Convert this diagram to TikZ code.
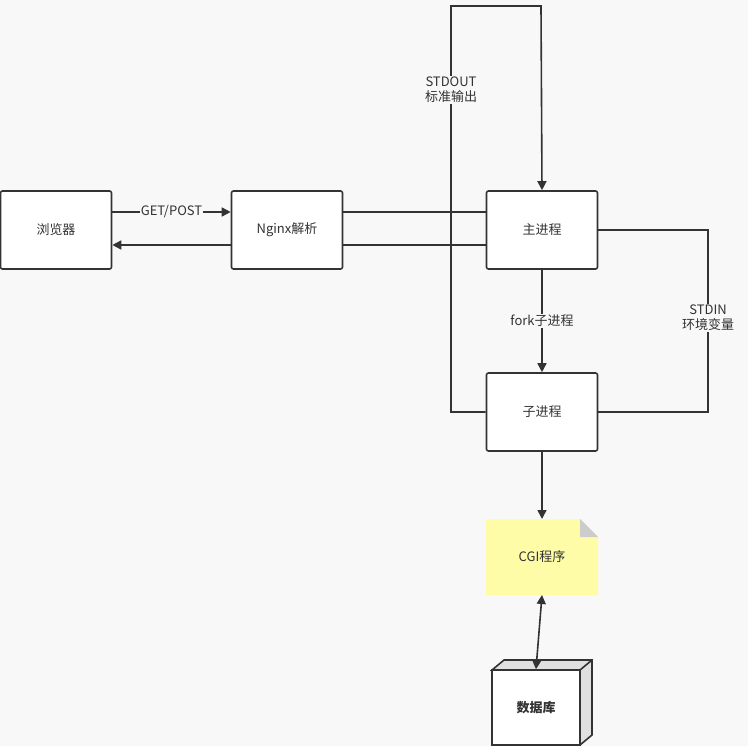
\documentclass[tikz,border=0pt]{standalone}
\usepackage{fontspec}
\setmainfont{Noto Sans CJK SC}
\usetikzlibrary{arrows.meta}
\definecolor{ln}{HTML}{333333}
\definecolor{bg}{HTML}{F8F8F8}
\definecolor{note}{HTML}{FFFCA8}
\begin{document}
\begin{tikzpicture}[x=1pt,y=-1pt,
  box/.style={draw=ln,line width=1.6pt,rounded corners=2pt,fill=white,minimum width=111pt,minimum height=78pt,font=\fontsize{13}{15}\selectfont,text=ln},
  conn/.style={draw=ln,line width=1.6pt},
  arr/.style={conn,-{Triangle[length=9pt,width=9pt]}},
  lbl/.style={fill=bg,inner sep=1pt,font=\fontsize{13}{15}\selectfont,text=ln,align=center}]
\fill[bg] (0,0) rectangle (748,746);
\useasboundingbox (0,0) rectangle (748,746);
\node[box] (b) at (56,230) {浏览器};
\node[box] (n) at (287,230) {Nginx解析};
\node[box] (m) at (542,230) {主进程};
\node[box] (c) at (542,412) {子进程};
% CGI note
\node[minimum width=112pt,minimum height=76pt,inner sep=0pt,font=\fontsize{13}{15}\selectfont,text=ln] (g) at (542,557) {CGI程序};
\fill[note] (486,519) -- (580,519) -- (598,537) -- (598,595) -- (486,595) -- cycle;
\fill[black!20] (580,519) -- (598,537) -- (580,537) -- cycle;
\node[font=\fontsize{13}{15}\selectfont,text=ln] at (542,557) {CGI程序};
% database cube
\filldraw[fill=black!12,draw=ln,line width=1.6pt] (492,670) -- (504,660) -- (592,660) -- (592,735) -- (580,745) -- (580,670) -- cycle;
\draw[ln,line width=1.6pt] (580,670) -- (592,660);
\node[draw=ln,line width=1.6pt,fill=white,minimum width=88pt,minimum height=75pt,inner sep=0pt,font=\bfseries\fontsize{13}{15}\selectfont,text=ln] (d) at (536,707.5) {数据库};
% connectors
\draw[arr] (b.east|-0,212) -- node[lbl]{GET/POST} (n.west|-0,212);
\draw[arr] (n.west|-0,245) -- (b.east|-0,245);
\draw[conn] (n.east|-0,212) -- (m.west|-0,212);
\draw[conn] (n.east|-0,245) -- (m.west|-0,245);
\coordinate (t1) at (451,6);
\coordinate (t2) at (541,6);
\draw[arr] (c.west) -- (451,412) -- (t1) -- (t2) -- (m.north);
\node[lbl] at (451,90) {STDOUT\\标准输出};
\draw[conn] (m.east) -- (708,230) -- (708,412) -- (c.east);
\node[lbl] at (708,318) {STDIN\\环境变量};
\draw[arr] (m.south) -- node[lbl]{fork子进程} (c.north);
\draw[arr] (c.south) -- (542,519);
\draw[conn,{Triangle[length=9pt,width=9pt]}-{Triangle[length=9pt,width=9pt]}] (542,595) -- (d.north);
\end{tikzpicture}
\end{document}
